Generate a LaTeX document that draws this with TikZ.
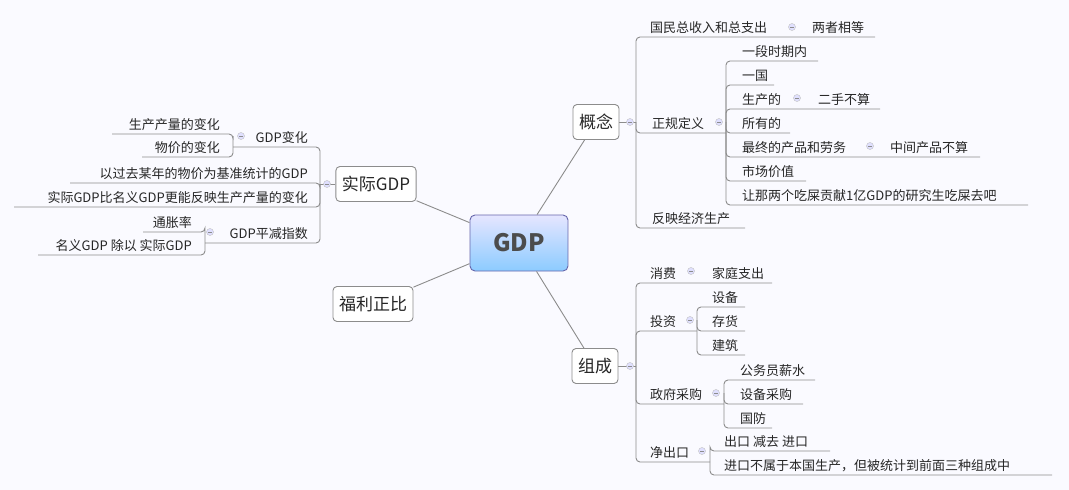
\documentclass[tikz,border=0pt]{standalone}
\usepackage{fontspec}
\setmainfont{Noto Sans CJK SC}
\begin{document}
\begin{tikzpicture}[x=1pt,y=-1pt,
  ln/.style={draw=black!45,line width=0.9pt,rounded corners=4pt},
  txt/.style={inner sep=0pt,text=black!85,font=\fontsize{13}{15}\selectfont},
  box/.style={draw=black!45,fill=white,rounded corners=4pt,line width=0.9pt,font=\fontsize{17}{20}\selectfont,text=black!85,minimum height=35pt,inner xsep=6pt},
  icon/.style={circle,draw=black!25,fill=blue!12,minimum size=7pt,inner sep=0pt,
    path picture={\draw[black!45,line width=0.6pt] ([xshift=-1.8pt]path picture bounding box.center) -- ([xshift=1.8pt]path picture bounding box.center);}}]
\fill[black!3!blue!2!white] (0,0) rectangle (1069,490);
\useasboundingbox (0,0) rectangle (1069,490);
\newcommand\rk[4]{\draw[ln] (#1,#2) |- (#4,#3);}
\newcommand\rt[4]{\node[txt,anchor=base west] (#1) at (#2,#3-5) {#4};}
\newcommand\lt[4]{\node[txt,anchor=base east] (#1) at (#2,#3-5) {#4};}
\newcommand\ic[2]{\node[icon] at (#1,#2) {};}
% central
\node[draw=blue!45!black!60,rounded corners=5pt,top color=blue!10,bottom color=blue!45!cyan!45,minimum width=98pt,minimum height=56pt,font=\fontsize{24}{28}\selectfont\bfseries,text=black!70,line width=0.9pt] (gdp) at (519,243) {GDP};
\node[box] (gn) at (596,122) {概念};
\node[box] (zc) at (595,366) {组成};
\node[box] (sj) at (376,184) {实际GDP};
\node[box] (fl) at (373,304) {福利正比};
\draw[ln] (gdp) -- (gn);
\draw[ln] (gdp) -- (zc);
\draw[ln] (gdp) -- (sj);
\draw[ln] (gdp) -- (fl);
% 概念
\draw[ln] (gn.east) -- (636,122);
\rk{636}{122}{37}{875}
\rk{636}{122}{133}{726}
\rk{636}{122}{228}{745}
\rt{a1}{650}{37}{国民总收入和总支出}\ic{792}{27}\rt{a1x}{812}{37}{两者相等}
\rt{a2}{652}{133}{正规定义}
\rt{a3}{652}{228}{反映经济生产}
\rk{726}{122}{61}{818}
\rk{726}{122}{85}{774}
\rk{726}{122}{109}{880}
\rk{726}{122}{133}{790}
\rk{726}{122}{157}{980}
\rk{726}{122}{181}{806}
\rk{726}{122}{205}{1028}
\rt{b1}{742}{61}{一段时期内}
\rt{b2}{742}{85}{一国}
\rt{b3}{742}{109}{生产的}\ic{797}{98}\rt{b3x}{818}{109}{二手不算}
\rt{b4}{742}{133}{所有的}
\rt{b5}{742}{157}{最终的产品和劳务}\ic{870}{146}\rt{b5x}{890}{157}{中间产品不算}
\rt{b6}{742}{181}{市场价值}
\rt{b7}{742}{205}{让那两个吃屎贡献1亿GDP的研究生吃屎去吧}
\ic{719}{122}
\ic{630}{122}
% 组成
\draw[ln] (zc.east) -- (636,366);
\rk{636}{366}{283}{772}
\rk{636}{366}{331}{697}
\rk{636}{366}{404}{724}
\rk{636}{366}{462}{710}
\rt{c1}{650}{283}{消费}\ic{691}{271}\rt{c1x}{712}{283}{家庭支出}
\rt{c2}{650}{331}{投资}
\rt{c3}{650}{404}{政府采购}
\rt{c4}{650}{462}{净出口}
\rk{697}{320}{307}{745}
\rk{697}{320}{331}{745}
\rk{697}{320}{355}{745}
\rt{d1}{712}{307}{设备}\rt{d2}{712}{331}{存货}\rt{d3}{712}{355}{建筑}
\rk{724}{393}{380}{815}
\rk{724}{393}{404}{803}
\rk{724}{393}{428}{772}
\rt{e1}{740}{380}{公务员薪水}\rt{e2}{740}{404}{设备采购}\rt{e3}{740}{428}{国防}
\rk{710}{451}{451}{830}
\rk{710}{451}{475}{1052}
\rt{f1}{724}{451}{出口 减去 进口}\rt{f2}{724}{475}{进口不属于本国生产，但被统计到前面三种组成中}
\ic{690}{320}\ic{716}{393}\ic{702}{451}\ic{630}{366}
% 实际GDP
\draw[ln] (sj.west) -- (320,184);
\rk{320}{184}{147}{233}
\rk{320}{184}{183}{70}
\rk{320}{184}{207}{14}
\rk{320}{184}{243}{205}
\lt{g1}{308}{147}{GDP变化}
\lt{g2}{308}{183}{以过去某年的物价为基准统计的GDP}
\lt{g3}{308}{207}{实际GDP比名义GDP更能反映生产产量的变化}
\lt{g4}{308}{243}{GDP平减指数}
\rk{233}{136}{134}{112}
\rk{233}{136}{157}{142}
\lt{h1}{220}{134}{生产产量的变化}\lt{h2}{220}{157}{物价的变化}
\rk{205}{232}{232}{143}
\rk{205}{232}{255}{38}
\lt{i1}{192}{232}{通胀率}\lt{i2}{192}{255}{名义GDP 除以 实际GDP}
\ic{241}{136}\ic{210}{232}\ic{327}{184}
\end{tikzpicture}
\end{document}
